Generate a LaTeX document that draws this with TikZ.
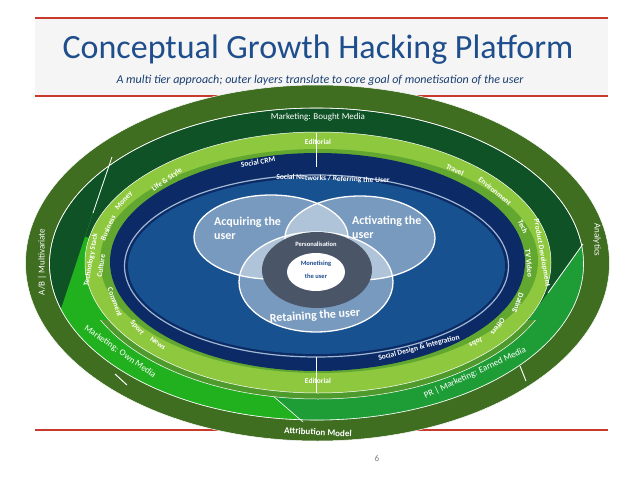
\documentclass[tikz,border=0pt]{standalone}
\usepackage{fontspec}
\setmainfont{Carlito}
\definecolor{redline}{HTML}{C83A2C}
\definecolor{titleblue}{HTML}{1F4E8C}
\definecolor{olive}{HTML}{3F6E21}
\definecolor{dkgreen}{HTML}{0F5226}
\definecolor{brgreen}{HTML}{22B11E}
\definecolor{mdgreen}{HTML}{1E9C35}
\definecolor{strip}{HTML}{4F9A2C}
\definecolor{edgreen}{HTML}{8DC83F}
\definecolor{tpgreen}{HTML}{62A830}
\definecolor{navy}{HTML}{0B2A66}
\definecolor{mblue}{HTML}{175190}
\definecolor{slate}{HTML}{4A5568}
\definecolor{monblue}{HTML}{1F4E8C}
\tikzset{
  wt/.style={text=white,font=\fontsize{7.5}{8}\selectfont\bfseries,inner sep=0pt},
  rl/.style={text=white,font=\fontsize{9}{10}\selectfont,inner sep=0pt},
  venn/.style={fill=white,fill opacity=0.42,draw=white,draw opacity=1,line width=1.3pt},
  vt/.style={text=white,font=\fontsize{12}{14}\selectfont\bfseries,inner sep=0pt,align=left,anchor=west},
  ring/.style={draw=white,line width=0.5pt}
}
\begin{document}
\begin{tikzpicture}[x=1pt,y=-1pt]
\useasboundingbox (0,0) rectangle (638,479);
\fill[white] (0,0) rectangle (638,479);
% header
\fill[gray!8] (35,19) rectangle (608,95);
\draw[redline,line width=2.5pt] (35,18) -- (608,18);
\draw[redline,line width=2.5pt] (35,96) -- (608,96);
\draw[redline,line width=2.5pt] (35,430) -- (608,430);
\node[text=titleblue,font=\fontsize{34}{36}\selectfont] (title) at (318,50) {Conceptual Growth Hacking Platform};
\node[text=titleblue!80!black,font=\fontsize{12}{14}\selectfont\itshape] (sub) at (320,80) {A multi tier approach; outer layers translate to core goal of monetisation of the user};
\node[text=gray,font=\fontsize{9}{11}\selectfont] (pg) at (377,458) {6};
% rings
\fill[olive,ring] (317.5,263) ellipse [x radius=292,y radius=178];
\fill[dkgreen,ring] (316.5,264) ellipse [x radius=267,y radius=156];
\begin{scope}
\clip (127,110) -- (60,312) -- (60,470) -- (640,470) -- (640,165) -- (520,332) -- (316,263) -- (85,237) -- cycle;
\fill[brgreen] (316.5,264) ellipse [x radius=267,y radius=156];
\end{scope}
\begin{scope}
\clip (250,376) -- (320,437) -- (640,437) -- (640,165) -- (520,332) -- cycle;
\fill[mdgreen] (316.5,264) ellipse [x radius=267,y radius=156];
\end{scope}
\draw[white,line width=0.6pt] (316.5,264) ellipse [x radius=267,y radius=156];
\draw[white,line width=0.8pt] (112,157) -- (93,213);
\draw[white,line width=0.8pt] (583,244) -- (548,293);
\draw[white,line width=0.6pt] (272,395) -- (303,422);
\draw[white,line width=1pt] (115,374) -- (127,385);
\draw[white,line width=1pt] (520,366) -- (526,381);
\begin{scope}
\clip (0,320) rectangle (638,479);
\fill[strip,ring] (318,262) ellipse [x radius=240,y radius=137];
\end{scope}
\fill[edgreen,ring] (318,262.5) ellipse [x radius=233,y radius=130.5];
\fill[tpgreen] (319,261) ellipse [x radius=219,y radius=112];
\fill[navy] (317.5,262) ellipse [x radius=207.5,y radius=109];
\draw[white!60!mblue,line width=1.2pt] (316.5,266) ellipse [x radius=192,y radius=91];
\fill[mblue] (316.5,266) ellipse [x radius=188.5,y radius=88];
\draw[white,line width=1pt] (316,133) -- (316,167);
\draw[white,line width=1pt] (316,357) -- (316,393);
% venn
\path[venn] (271,237) ellipse [x radius=77,y radius=42];
\path[venn] (360,238) ellipse [x radius=75,y radius=42];
\path[venn] (316,282) ellipse [x radius=77,y radius=50];
\fill[slate] (317,270) ellipse [x radius=55,y radius=38];
\fill[white] (316,272) ellipse [x radius=29,y radius=19];
\node[vt] (acq) at (214,228) {Acquiring the\\user};
\node[vt] (act) at (352,227) {Activating the\\user};
\node[text=white,font=\fontsize{6.5}{8}\selectfont\bfseries,inner sep=0pt] (pers) at (316,244) {Personalisation};
\node[text=monblue,font=\fontsize{6.5}{13}\selectfont\bfseries,inner sep=0pt,align=center] (mon) at (316,270) {Monetising\\the user};
\node[text=white,font=\fontsize{12}{14}\selectfont\bfseries,inner sep=0pt,rotate=4] (ret) at (315,316) {Retaining the user};
% ring labels
\node[rl] (bought) at (318,117) {Marketing: Bought Media};
\node[wt] (ed1) at (318,142) {Editorial};
\node[wt] (ed2) at (318,381) {Editorial};
\node[rl,font=\fontsize{9}{10}\selectfont\bfseries,rotate=-3] (attr) at (318,432) {Attribution Model};
\node[rl,rotate=90] (ab) at (42,262) {A/B | Multivariate};
\node[rl,rotate=-90] (an) at (597,240) {Analytics};
\node[rl,rotate=-35] (own) at (120,352) {Marketing: Own Media};
\node[rl,rotate=25] (pr) at (475,373) {PR | Marketing: Earned Media};
\node[wt,rotate=10] (crm) at (258,162) {Social CRM};
\node[wt,rotate=-2] (sn) at (333,179) {Social Networks / Referring the User};
\node[wt,rotate=15] (sd) at (419,348) {Social Design \& Integration};
% topics
\node[wt,rotate=35] at (167,180) {Life \& Style};
\node[wt,rotate=48] at (124,201) {Money};
\node[wt,rotate=66] at (108,228) {Business};
\node[wt,rotate=82] at (101,266) {Culture};
\node[wt,rotate=80] at (91,260) {Technology Stack};
\node[wt,rotate=-70] at (115,302) {Comment};
\node[wt,rotate=-50] at (137,328) {Sport};
\node[wt,rotate=-35] at (158,343) {News};
\node[wt,rotate=-25] at (455,170) {Travel};
\node[wt,rotate=-40] at (495,191) {Environment};
\node[wt,rotate=-65] at (523,227) {Tech};
\node[wt,rotate=-85] at (529,263) {TV Video};
\node[wt,rotate=-80] at (542,253) {Product Development};
\node[wt,rotate=-108] at (518,303) {Dating};
\node[wt,rotate=-125] at (498,327) {Offers};
\node[wt,rotate=-155] at (476,343) {Jobs};
\end{tikzpicture}
\end{document}
